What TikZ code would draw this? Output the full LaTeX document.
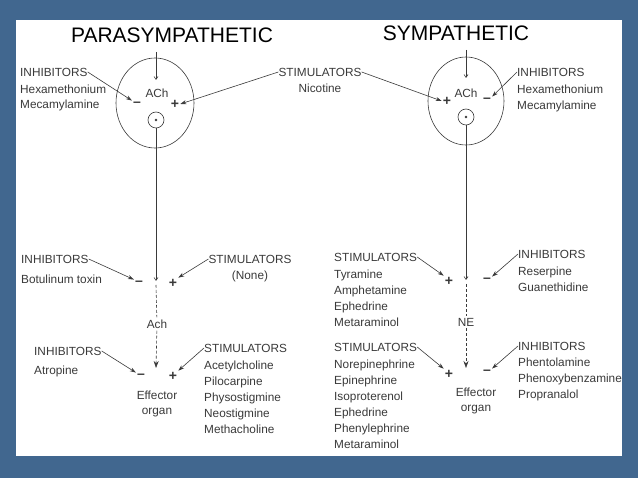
\documentclass[tikz,border=0pt]{standalone}
\usepackage{fontspec}
\setmainfont{Liberation Sans}
\usetikzlibrary{arrows.meta}
\definecolor{bgblue}{HTML}{41678F}
\definecolor{ink}{HTML}{3A3A3A}
\begin{document}
\begin{tikzpicture}[x=1pt,y=-1pt,
  lbl/.style={font=\fontsize{11.8}{12}\selectfont,text=ink,inner sep=0pt,anchor=west},
  clbl/.style={font=\fontsize{11.8}{15}\selectfont,text=ink,inner sep=0pt,align=center},
  lst/.style={font=\fontsize{11.8}{16}\selectfont,text=ink,inner sep=0pt,align=left,anchor=north west},
  ttl/.style={font=\fontsize{21}{24}\selectfont,text=black,inner sep=0pt},
  sgn/.style={font=\fontsize{14}{14}\selectfont\bfseries,text=ink,inner sep=1pt},
  arr/.style={draw=ink,line width=0.6pt,-{Stealth[length=6pt,width=4pt]}},
  nerve/.style={draw=ink,line width=0.6pt},
  dsh/.style={draw=ink,line width=0.6pt,dashed,dash pattern=on 3pt off 2pt},
  open/.style={-{Straight Barb[length=3pt,width=4pt]}}]
\fill[bgblue] (0,0) rectangle (638,478);
\fill[white] (16,20) rectangle (622,456);
\useasboundingbox (0,0) rectangle (638,478);
% titles
\node[ttl] (tp) at (172,35) {PARASYMPATHETIC};
\node[ttl] (ts) at (456,33) {SYMPATHETIC};
% ---------- left ganglion
\draw[nerve] (155,103) ellipse (39pt and 45pt);
\coordinate (lt) at (156,52);
\coordinate (lh) at (156,80);
\draw[nerve,open] (lt) -- (lh);
\node[clbl] (lach) at (157,93) {ACh};
\node[sgn] (lm) at (137,104) {--};
\node[sgn] (lp) at (175,104) {+};
\draw[nerve] (156,120) circle (8pt);
\fill[ink] (156,120) circle (1.3pt);
\coordinate (lc) at (156,128);
\coordinate (lj) at (156,281);
\draw[nerve,open] (lc) -- (lj);
\coordinate (ld1) at (156,285);
\coordinate (ld2) at (156,368);
\node[clbl,fill=white,inner sep=2pt] (lachb) at (157,324) {Ach};
\draw[dsh] (ld1) -- (lachb);
\draw[dsh,-{Stealth[length=7pt,width=5pt]}] (lachb) -- (ld2);
\node[lbl] (li1) at (20,72) {INHIBITORS};
\node[lbl] (li1a) at (20,89) {Hexamethonium};
\node[lbl] (li1b) at (20,105) {Mecamylamine};
\draw[arr] (li1.east) -- (lm.north west);
\node[clbl] (st) at (320,72) {STIMULATORS};
\node[clbl] (nic) at (320,88) {Nicotine};
\draw[arr] (st.west) -- (lp.east);
% left junction
\node[sgn] (lm2) at (139,283) {--};
\node[sgn] (lp2) at (173,283) {+};
\node[lbl] (li2) at (21,259) {INHIBITORS};
\node[lbl] (li2a) at (21,279) {Botulinum toxin};
\draw[arr] (li2.east) -- (lm2.north west);
\node[clbl] (ls2) at (250,259) {STIMULATORS};
\node[clbl] (ls2a) at (250,276) {(None)};
\draw[arr] (ls2.west) -- (lp2.north east);
% left effector
\node[sgn] (lm3) at (141,376) {--};
\node[sgn] (lp3) at (173,376) {+};
\node[clbl] (leff) at (157,404) {Effector\\organ};
\node[lbl] (li3) at (34,351) {INHIBITORS};
\node[lbl] (li3a) at (34,371) {Atropine};
\draw[arr] (li3.east) -- (lm3.north west);
\node[lbl] (ls3) at (204,348) {STIMULATORS};
\node[lst] (ls3a) at (204,361) {Acetylcholine\\Pilocarpine\\Physostigmine\\Neostigmine\\Methacholine};
\draw[arr] (ls3.west) -- (lp3.north east);
% ---------- right ganglion
\draw[nerve] (466,101) ellipse (38pt and 44pt);
\coordinate (rt) at (466,50);
\coordinate (rh) at (466,78);
\draw[nerve,open] (rt) -- (rh);
\node[clbl] (rach) at (466,93) {ACh};
\node[sgn] (rp) at (447,101) {+};
\node[sgn] (rm) at (487,100) {--};
\draw[arr] (st.east) -- (rp.west);
\draw[nerve] (466,117) circle (8pt);
\fill[ink] (466,117) circle (1.3pt);
\node[lbl] (ri1) at (517,72) {INHIBITORS};
\node[lbl] (ri1a) at (517,89) {Hexamethonium};
\node[lbl] (ri1b) at (517,106) {Mecamylamine};
\draw[arr] (ri1.west) -- (rm.north east);
\coordinate (rc) at (466,125);
\coordinate (rj) at (466,280);
\draw[nerve,open] (rc) -- (rj);
\coordinate (rd1) at (466,284);
\coordinate (rd2) at (466,368);
\node[clbl,fill=white,inner sep=2pt] (rne) at (466,322) {NE};
\draw[dsh] (rd1) -- (rne);
\draw[dsh,-{Stealth[length=7pt,width=5pt]}] (rne) -- (rd2);
% right junction
\node[sgn] (rp2) at (449,281) {+};
\node[sgn] (rm2) at (487,280) {--};
\node[lbl] (rs2) at (334,257) {STIMULATORS};
\node[lst] (rs2a) at (334,270) {Tyramine\\Amphetamine\\Ephedrine\\Metaraminol};
\draw[arr] (rs2.east) -- (rp2.north west);
\node[lbl] (ri2) at (518,254) {INHIBITORS};
\node[lst] (ri2a) at (518,267) {Reserpine\\Guanethidine};
\draw[arr] (ri2.west) -- (rm2.north east);
% right effector
\node[sgn] (rp3) at (449,374) {+};
\node[sgn] (rm3) at (487,372) {--};
\node[clbl] (reff) at (476,401) {Effector\\organ};
\node[lbl] (rs3) at (334,347) {STIMULATORS};
\node[lst] (rs3a) at (334,360) {Norepinephrine\\Epinephrine\\Isoproterenol\\Ephedrine\\Phenylephrine\\Metaraminol};
\draw[arr] (rs3.east) -- (rp3.north west);
\node[lbl] (ri3) at (518,346) {INHIBITORS};
\node[lst] (ri3a) at (518,358) {Phentolamine\\Phenoxybenzamine\\Propranalol};
\draw[arr] (ri3.west) -- (rm3.north east);
\end{tikzpicture}
\end{document}
